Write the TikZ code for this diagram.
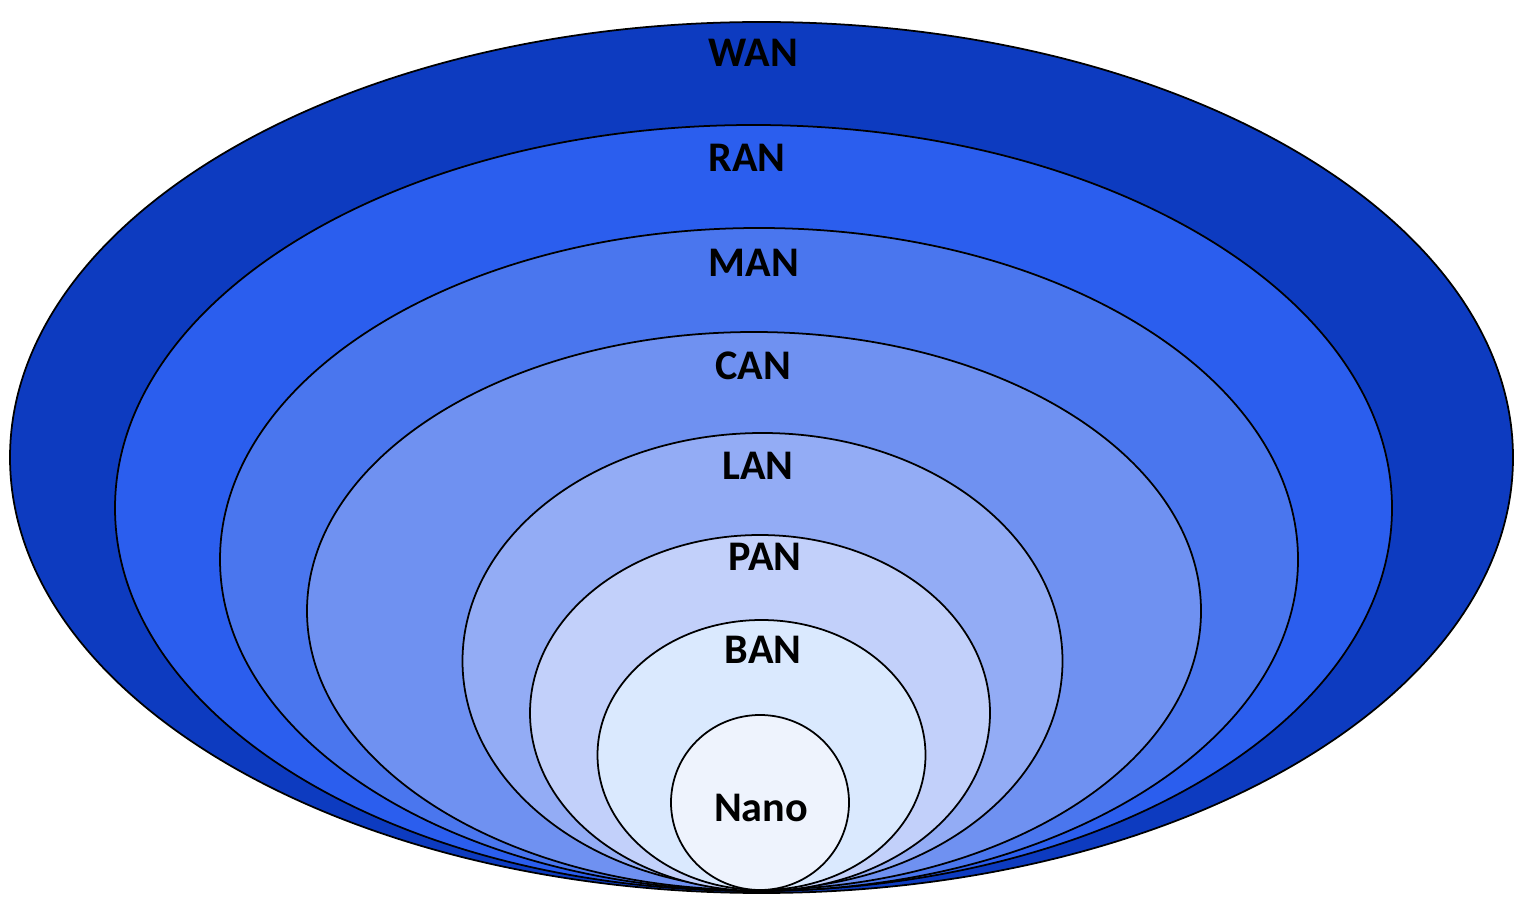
\documentclass[tikz,border=0pt]{standalone}
\usepackage{fontspec}
\setmainfont{Carlito}
\usetikzlibrary{shapes.geometric}
\definecolor{wancol}{HTML}{0D3BC0}
\definecolor{rancol}{HTML}{2B5EEE}
\definecolor{mancol}{HTML}{4A76EE}
\definecolor{cancol}{HTML}{6F91F1}
\definecolor{lancol}{HTML}{93ACF5}
\definecolor{pancol}{HTML}{C2D0FA}
\definecolor{bancol}{HTML}{DAE9FE}
\definecolor{nanocol}{HTML}{EEF3FD}
\begin{document}
\begin{tikzpicture}[y=-1cm,
    ring/.style={draw, ellipse, inner sep=0pt, line width=0.5pt},
    netlabel/.style={inner sep=0pt, font=\fontsize{12}{14}\selectfont\bfseries}]
    \useasboundingbox (0,0) rectangle (15.36,9.13);

    % Anelli, dal piu grande al piu piccolo
    \node[ring, fill=wancol, minimum width=15.03cm, minimum height=8.71cm] (wan) at (7.615,4.575) {};
    \node[ring, fill=rancol, minimum width=12.77cm, minimum height=7.66cm] (ran) at (7.535,5.08) {};
    \node[ring, fill=mancol, minimum width=10.78cm, minimum height=6.63cm] (man) at (7.59,5.595) {};
    \node[ring, fill=cancol, minimum width=8.94cm, minimum height=5.58cm] (can) at (7.54,6.11) {};
    \node[ring, fill=lancol, minimum width=6.00cm, minimum height=4.56cm] (lan) at (7.625,6.61) {};
    \node[ring, fill=pancol, minimum width=4.60cm, minimum height=3.56cm] (pan) at (7.60,7.13) {};
    \node[ring, fill=bancol, minimum width=3.28cm, minimum height=2.70cm] (ban) at (7.615,7.55) {};
    \node[ring, fill=nanocol, minimum width=1.78cm, minimum height=1.75cm] (nano) at (7.60,8.025) {};

    % Etichette
    \node[netlabel] (wan_lbl) at (7.53,0.53) {WAN};
    \node[netlabel] (ran_lbl) at (7.47,1.58) {RAN};
    \node[netlabel] (man_lbl) at (7.54,2.63) {MAN};
    \node[netlabel] (can_lbl) at (7.53,3.66) {CAN};
    \node[netlabel] (lan_lbl) at (7.58,4.66) {LAN};
    \node[netlabel] (pan_lbl) at (7.65,5.57) {PAN};
    \node[netlabel] (ban_lbl) at (7.63,6.50) {BAN};
    \node[netlabel] (nano_lbl) at (7.61,8.08) {Nano};
\end{tikzpicture}
\end{document}
